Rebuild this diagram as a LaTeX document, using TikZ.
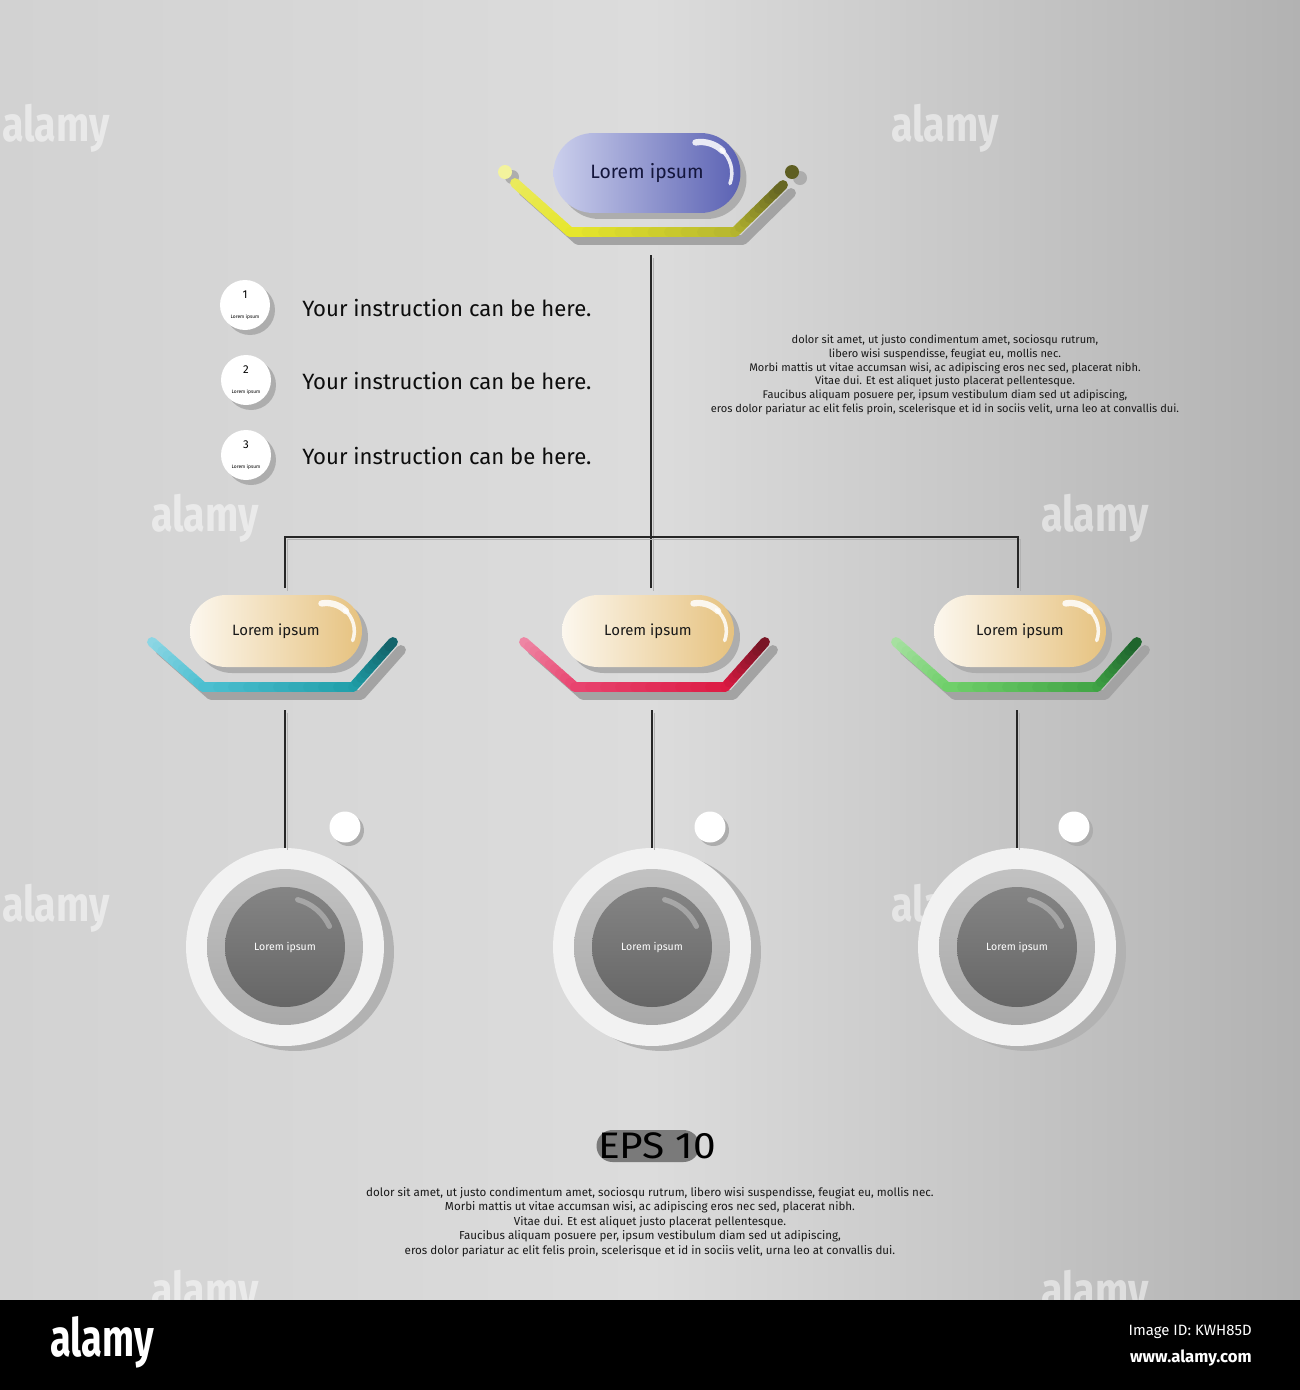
\documentclass[tikz,border=0pt]{standalone}
\usepackage{fontspec}
\setmainfont{Fira Sans}
\usetikzlibrary{positioning,calc,shadows}

\definecolor{bgL}{HTML}{D2D2D2}
\definecolor{bgM}{HTML}{DCDCDC}
\definecolor{bgR}{HTML}{B2B2B2}
\definecolor{blueL}{HTML}{CBCFEC}
\definecolor{blueM}{HTML}{8A90D0}
\definecolor{blueR}{HTML}{5A61B3}
\definecolor{goldL}{HTML}{FCF7EE}
\definecolor{goldR}{HTML}{E6C27F}
\definecolor{ylwA}{HTML}{EAEA5C}
\definecolor{ylwB}{HTML}{E6E62C}
\definecolor{ylwC}{HTML}{B4B42E}
\definecolor{ylwD}{HTML}{5E5E22}
\definecolor{cyaA}{HTML}{8CD6E4}
\definecolor{cyaB}{HTML}{4CBFD0}
\definecolor{cyaC}{HTML}{1F9EA8}
\definecolor{cyaD}{HTML}{125E64}
\definecolor{redA}{HTML}{EE86A4}
\definecolor{redB}{HTML}{E8436E}
\definecolor{redC}{HTML}{DC1A42}
\definecolor{redD}{HTML}{6E1422}
\definecolor{grnA}{HTML}{A6E0A0}
\definecolor{grnB}{HTML}{6FCF6A}
\definecolor{grnC}{HTML}{3FA244}
\definecolor{grnD}{HTML}{1B5E2B}

\tikzset{
  softshadow/.style={drop shadow={shadow xshift=#1, shadow yshift=-#1, fill=black!32, opacity=1}},
  pill/.style={rounded corners=0.72cm, minimum width=3.44cm, minimum height=1.44cm,
    left color=goldL, right color=goldR, softshadow=0.12cm,
    font=\fontsize{8.5}{10}\selectfont, text=black!90},
  toppill/.style={rounded corners=0.8cm, minimum width=3.74cm, minimum height=1.6cm,
    left color=blueL, middle color=blueM, right color=blueR, softshadow=0.12cm,
    font=\fontsize{11}{12}\selectfont, text={rgb,255:red,20;green,22;blue,60}},
  glossline/.style={white, opacity=.85, line cap=round},
  trayline/.style={line width=5.6pt, line cap=round, line join=round},
  trayshadow/.style={trayline, black!36},
  link/.style={draw=black!85, line width=0.6pt,
    preaction={draw=black!30, line width=1.1pt, transform canvas={shift={(0.05cm,-0.05cm)}}}},
  ring/.style={circle, inner sep=0, minimum size=3.96cm, fill=white!95!black,
    drop shadow={shadow xshift=0.2cm, shadow yshift=-0.1cm, fill=black!30, opacity=1}},
  midring/.style={circle, inner sep=0, minimum size=3.12cm, top color=black!24, bottom color=black!34},
  core/.style={circle, inner sep=0, minimum size=2.4cm, top color=black!48, bottom color=black!60,
    text=white, font=\fontsize{6}{7}\selectfont},
  dot/.style={circle, inner sep=0, minimum size=0.62cm, fill=white, softshadow=0.07cm},
  numdot/.style={circle, inner sep=0, minimum size=1.0cm, fill=white, softshadow=0.1cm, align=center},
  steptext/.style={font=\fontsize{12.6}{14}\selectfont, text=black!95, inner sep=0},
  para/.style={align=center, inner sep=0, font=\fontsize{6.3}{7.8}\selectfont, text=black!90},
  stamp/.style={white, opacity=.5, font=\bfseries\fontsize{28}{28}\selectfont}
}

% thick bent bar through (#1a) (#1b) (#1c) (#1d), shaded through four colours
\newcommand\tray[5]{%
  \draw[trayshadow] ($(#1a)+(8,-8)$) -- ($(#1b)+(8,-8)$) -- ($(#1c)+(8,-8)$) -- ($(#1d)+(8,-8)$);
  \foreach \pa/\pb/\ca/\cb in {a/b/#2/#3, b/c/#3/#4, c/d/#4/#5}{
    \foreach \st in {0,...,9}{
      \pgfmathsetmacro\ta{\st/10}
      \pgfmathsetmacro\tb{(\st+1)/10}
      \pgfmathtruncatemacro\pc{100-10*\st}
      \draw[trayline, \ca!\pc!\cb] ($(#1\pa)!\ta!(#1\pb)$) -- ($(#1\pa)!\tb!(#1\pb)$);
    }
  }
}
% white highlight in the right end of a pill
\newcommand\gloss[3]{% node, half height, radius
  \draw[glossline, line width=3.6pt] ($(#1.east)+(-#2,0)$) ++(100:#3) arc[start angle=100, end angle=45, radius=#3];
  \draw[glossline, line width=2pt] ($(#1.east)+(-#2,0)$) ++(50:#3) arc[start angle=50, end angle=-20, radius=#3];
}

\begin{document}
\begin{tikzpicture}[x=0.02cm, y=0.02cm]
\useasboundingbox (0,0) rectangle (1300,-1390);
\shade[left color=bgL, right color=bgR, middle color=bgM] (0,0) rectangle (1300,-1300);

\foreach \wx/\wy in {56/128, 945/128, 205/518, 1095/518, 56/908, 945/908, 205/1294, 1095/1294}
  \node[stamp] (wm\wx-\wy) at (\wx,-\wy) {\scalebox{0.8}[1]{alamy}};

% top
\coordinate (ta) at (515,-183);
\coordinate (tb) at (570,-232);
\coordinate (tc) at (735,-232);
\coordinate (td) at (783,-185);
\fill[black!32] (512,-177) circle[radius=7];
\fill[ylwA!60!white] (505,-172) circle[radius=7];
\fill[black!32] (800,-178) circle[radius=7];
\fill[ylwD] (792,-172) circle[radius=7];
\tray{t}{ylwA}{ylwB}{ylwC}{ylwD}
\node[toppill] (top) at (647,-173) {Lorem ipsum};
\gloss{top}{0.8cm}{0.62cm}

% second row
\coordinate (t1a) at (152,-642);
\coordinate (t1b) at (203,-687);
\coordinate (t1c) at (353,-687);
\coordinate (t1d) at (393,-642);
\coordinate (t2a) at (524,-642);
\coordinate (t2b) at (575,-687);
\coordinate (t2c) at (725,-687);
\coordinate (t2d) at (765,-642);
\coordinate (t3a) at (896,-642);
\coordinate (t3b) at (947,-687);
\coordinate (t3c) at (1097,-687);
\coordinate (t3d) at (1137,-642);
\tray{t1}{cyaA}{cyaB}{cyaC}{cyaD}
\tray{t2}{redA}{redB}{redC}{redD}
\tray{t3}{grnA}{grnB}{grnC}{grnD}
\node[pill] (m1) at (276,-631) {Lorem ipsum};
\node[pill] (m2) at (648,-631) {Lorem ipsum};
\node[pill] (m3) at (1020,-631) {Lorem ipsum};
\gloss{m1}{0.72cm}{0.56cm}
\gloss{m2}{0.72cm}{0.56cm}
\gloss{m3}{0.72cm}{0.56cm}

% bottom row
\node[ring] (c1) at (285,-947) {};
\node[ring] (c2) at (652,-947) {};
\node[ring] (c3) at (1017,-947) {};
\foreach \n in {1,2,3}{
  \node[midring] (r\n) at (c\n) {};
  \node[core] (k\n) at (c\n) {Lorem ipsum};
  \draw[white, opacity=.3, line width=3pt, line cap=round]
    (k\n.center) ++(75:0.98cm) arc[start angle=75, end angle=25, radius=0.98cm];
}
\node[dot] (d1) at (345,-827) {};
\node[dot] (d2) at (710,-827) {};
\node[dot] (d3) at (1074,-827) {};

% connectors
\coordinate (top-s) at (651,-255);
\coordinate (bus) at (651,-537);
\coordinate (m1-n) at (285,-588);
\coordinate (m2-n) at (651,-588);
\coordinate (m3-n) at (1018,-588);
\coordinate (m1-s) at (285,-710);
\coordinate (m2-s) at (652,-710);
\coordinate (m3-s) at (1017,-710);
\draw[link] (top-s) -- (m2-n);
\draw[link] (m1-n) |- (bus) -| (m3-n);
\draw[link] (m1-s) -- (c1.north);
\draw[link] (m2-s) -- (c2.north);
\draw[link] (m3-s) -- (c3.north);

% steps
\node[numdot] (i1) at (245,-305) {\fontsize{6.5}{6}\selectfont 1\\[-0.5pt]\fontsize{2.8}{3}\selectfont Lorem ipsum};
\node[numdot] (i2) at (246,-380) {\fontsize{6.5}{6}\selectfont 2\\[-0.5pt]\fontsize{2.8}{3}\selectfont Lorem ipsum};
\node[numdot] (i3) at (246,-455) {\fontsize{6.5}{6}\selectfont 3\\[-0.5pt]\fontsize{2.8}{3}\selectfont Lorem ipsum};
\node[steptext, anchor=west] (s1) at (302,-308) {Your instruction can be here.};
\node[steptext, anchor=west] (s2) at (302,-381) {Your instruction can be here.};
\node[steptext, anchor=west] (s3) at (302,-456) {Your instruction can be here.};

\node[para] (note) at (945,-375) {dolor sit amet, ut justo condimentum amet, sociosqu rutrum,\\
  libero wisi suspendisse, feugiat eu, mollis nec.\\
  Morbi mattis ut vitae accumsan wisi, ac adipiscing eros nec sed, placerat nibh.\\
  Vitae dui. Et est aliquet justo placerat pellentesque.\\
  Faucibus aliquam posuere per, ipsum vestibulum diam sed ut adipiscing,\\
  eros dolor pariatur ac elit felis proin, scelerisque et id in sociis velit, urna leo at convallis dui.};

% EPS label and text
\node[fill=black!52, rounded corners=0.32cm, minimum width=2.06cm, minimum height=0.64cm] (eps) at (648,-1146) {};
\node[font=\fontsize{21}{22}\selectfont, inner sep=0] (epstxt) at (657,-1146) {\scalebox{1.1}[1]{EPS 10}};
\node[para, font=\fontsize{6.6}{8.2}\selectfont] (foot) at (650,-1222) {dolor sit amet, ut justo condimentum amet, sociosqu rutrum, libero wisi suspendisse, feugiat eu, mollis nec.\\
  Morbi mattis ut vitae accumsan wisi, ac adipiscing eros nec sed, placerat nibh.\\
  Vitae dui. Et est aliquet justo placerat pellentesque.\\
  Faucibus aliquam posuere per, ipsum vestibulum diam sed ut adipiscing,\\
  eros dolor pariatur ac elit felis proin, scelerisque et id in sociis velit, urna leo at convallis dui.};

% footer
\fill[black] (0,-1300) rectangle (1300,-1390);
\node[white, anchor=west, inner sep=0, font=\bfseries\fontsize{30}{30}\selectfont] (brand) at (50,-1342) {\scalebox{0.72}[1]{alamy}};
\node[white, anchor=east, inner sep=0, font=\fontsize{8.5}{9}\selectfont] (imgid) at (1252,-1332) {Image ID: KWH85D};
\node[white, anchor=east, inner sep=0, font=\bfseries\fontsize{9.5}{10}\selectfont] (url) at (1252,-1358) {www.alamy.com};
\end{tikzpicture}
\end{document}
